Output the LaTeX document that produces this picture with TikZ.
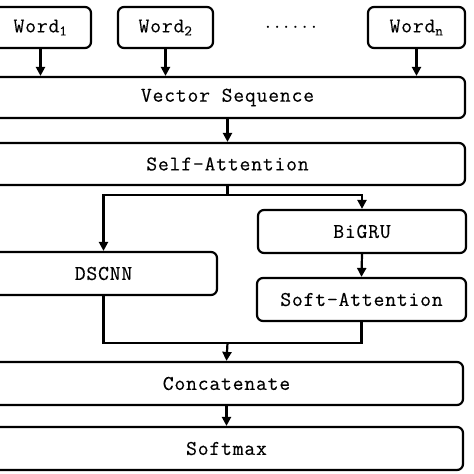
\documentclass[tikz,border=0pt]{standalone}
\usepackage{fontspec}
\setmonofont{Latin Modern Mono}[LetterSpace=4,FakeBold=0.3]
\usetikzlibrary{arrows.meta}

\begin{document}
\begin{tikzpicture}[x=1pt,y=-1pt,
  box/.style={draw,line width=2.2pt,rounded corners=6pt,inner sep=0pt,
    font=\ttfamily\fontsize{21}{23}\selectfont},
  link/.style={line width=2.2pt},
  arr/.style={link,-{Triangle[length=9pt,width=9pt]}}]
\useasboundingbox (0,0) rectangle (474,474);
% input words
\node[box,minimum width=101pt,minimum height=41pt] (w1) at (40.5,27.5) {Word\textsubscript{1}};
\node[box,minimum width=95pt,minimum height=41pt] (w2) at (165.5,27.5) {Word\textsubscript{2}};
\node[font=\fontsize{20}{22}\selectfont] (dots) at (291,27.5) {$\cdots\cdots$};
\node[box,minimum width=97pt,minimum height=41pt] (wn) at (416.5,27.5) {Word\textsubscript{n}};
% main stack
\node[box,minimum width=475pt,minimum height=41pt] (vs) at (227.5,97.5) {Vector Sequence};
\node[box,minimum width=475pt,minimum height=42pt] (sa) at (227.5,164) {Self-Attention};
\node[box,minimum width=208pt,minimum height=43pt] (bigru) at (362,231.5) {BiGRU};
\node[box,minimum width=227pt,minimum height=43pt] (dscnn) at (103.5,273.5) {DSCNN};
\node[box,minimum width=209pt,minimum height=43pt] (soft) at (361.5,299.5) {Soft-Attention};
\node[box,minimum width=473pt,minimum height=43pt] (cat) at (226.5,383.5) {Concatenate};
\node[box,minimum width=473pt,minimum height=43pt] (sm) at (226.5,448.5) {Softmax};
\coordinate (fork) at (sa.south |- 0,195);
\coordinate (join) at (sa.south |- 0,343);
% connectors
\draw[arr] (w1.south) -- (w1.south |- vs.north);
\draw[arr] (w2.south) -- (w2.south |- vs.north);
\draw[arr] (wn.south) -- (wn.south |- vs.north);
\draw[arr] (vs.south) -- (sa.north);
\draw[link] (sa.south) -- (fork);
\draw[arr] (fork) -| (dscnn.north);
\draw[arr] (fork) -| (bigru.north);
\draw[arr] (bigru.south) -- (soft.north);
\draw[link] (dscnn.south) |- (join);
\draw[link] (soft.south) |- (join);
\draw[arr] (join) -- (cat.north);
\draw[arr] (cat.south) -- (sm.north);
\end{tikzpicture}
\end{document}
